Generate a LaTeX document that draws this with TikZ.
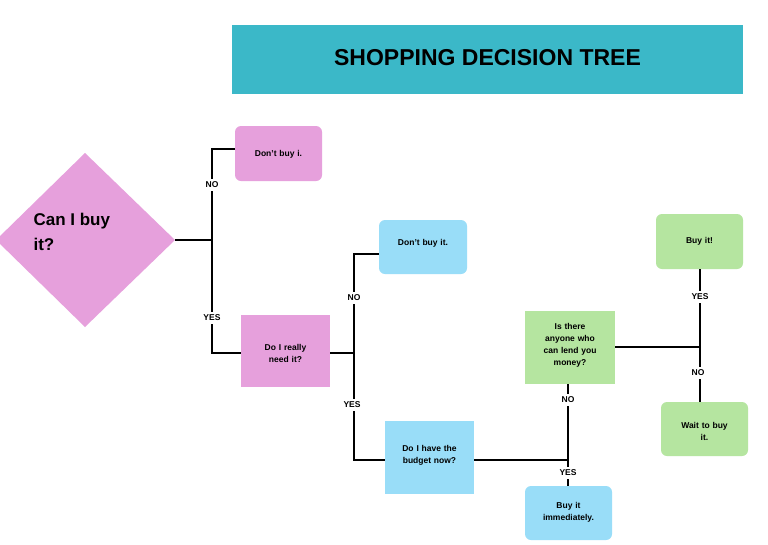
\documentclass[tikz,border=0pt]{standalone}
\usepackage{fontspec}
\setmainfont{Liberation Sans}
\usetikzlibrary{shapes.geometric}
\definecolor{teal}{HTML}{3BB8C8}
\definecolor{pink}{HTML}{E6A0DC}
\definecolor{blue}{HTML}{99DDF8}
\definecolor{green}{HTML}{B5E5A0}
\begin{document}
\begin{tikzpicture}[x=1pt,y=-1pt,
  box/.style={font=\bfseries\fontsize{8.5}{12}\selectfont,align=center,text width=#1},
  rbox/.style={rounded corners=6pt},
  lbl/.style={fill=white,font=\bfseries\fontsize{8.5}{10}\selectfont,inner sep=3pt},
  ln/.style={line width=1.2pt}]
\useasboundingbox (0,0) rectangle (768,544);
\fill[white] (0,0) rectangle (768,544);
\fill[teal] (232,25) rectangle (743,94);
\node (title) at (487.5,58) {\bfseries\fontsize{23}{26}\selectfont SHOPPING DECISION TREE};
% diamond
\fill[pink] (85,153) -- (175,240) -- (85,327) -- (-4,240) -- cycle;
\node (can) [anchor=west,align=left,font=\bfseries\fontsize{17}{25}\selectfont] at (30,232) {Can I buy\\it?};
\coordinate (dr) at (175,240);
% boxes
\fill[pink,rbox] (235,126) rectangle (322,181);
\node[box=80pt] (d1) at (278.5,154) {Don't buy i.};
\fill[pink] (241,315) rectangle (330,387);
\node[box=80pt] (q2) at (285.5,353) {Do I really\\need it?};
\fill[blue,rbox] (379,220) rectangle (467,274);
\node[box=80pt] (d2) at (423,243) {Don't buy it.};
\fill[blue] (385,421) rectangle (474,494);
\node[box=80pt] (q3) at (429.5,455) {Do I have the\\budget now?};
\fill[green] (525,311) rectangle (615,384);
\node[box=80pt] (q4) at (570,345) {Is there\\anyone who\\can lend you\\money?};
\fill[blue,rbox] (525,486) rectangle (612,540);
\node[box=80pt] (b1) at (568.5,512) {Buy it\\immediately.};
\fill[green,rbox] (656,214) rectangle (743,269);
\node[box=80pt] (b2) at (699.5,241) {Buy it!};
\fill[green,rbox] (661,402) rectangle (748,456);
\node[box=80pt] (w) at (704.5,431) {Wait to buy\\it.};
% connectors
\coordinate (j1) at (212,240);
\draw[ln] (dr) -- (j1);
\draw[ln] (235,149) -| (212,353) -- (241,353);
\node[lbl] (n1) at (212,185) {NO};
\node[lbl] (y1) at (212,318) {YES};
\coordinate (j2) at (354,353);
\draw[ln] (330,353) -- (j2);
\draw[ln] (379,254) -| (354,460) -- (385,460);
\node[lbl] (n2) at (354,298) {NO};
\node[lbl] (y2) at (352,405) {YES};
\draw[ln] (474,460) -- (568,460);
\draw[ln] (568,384) -- (568,486);
\node[lbl] (n3) at (568,400) {NO};
\node[lbl] (y3) at (568,473) {YES};
\draw[ln] (615,347) -- (700,347);
\draw[ln] (700,269) -- (700,402);
\node[lbl] (y4) at (700,297) {YES};
\node[lbl] (n4) at (698,373) {NO};
\end{tikzpicture}
\end{document}
